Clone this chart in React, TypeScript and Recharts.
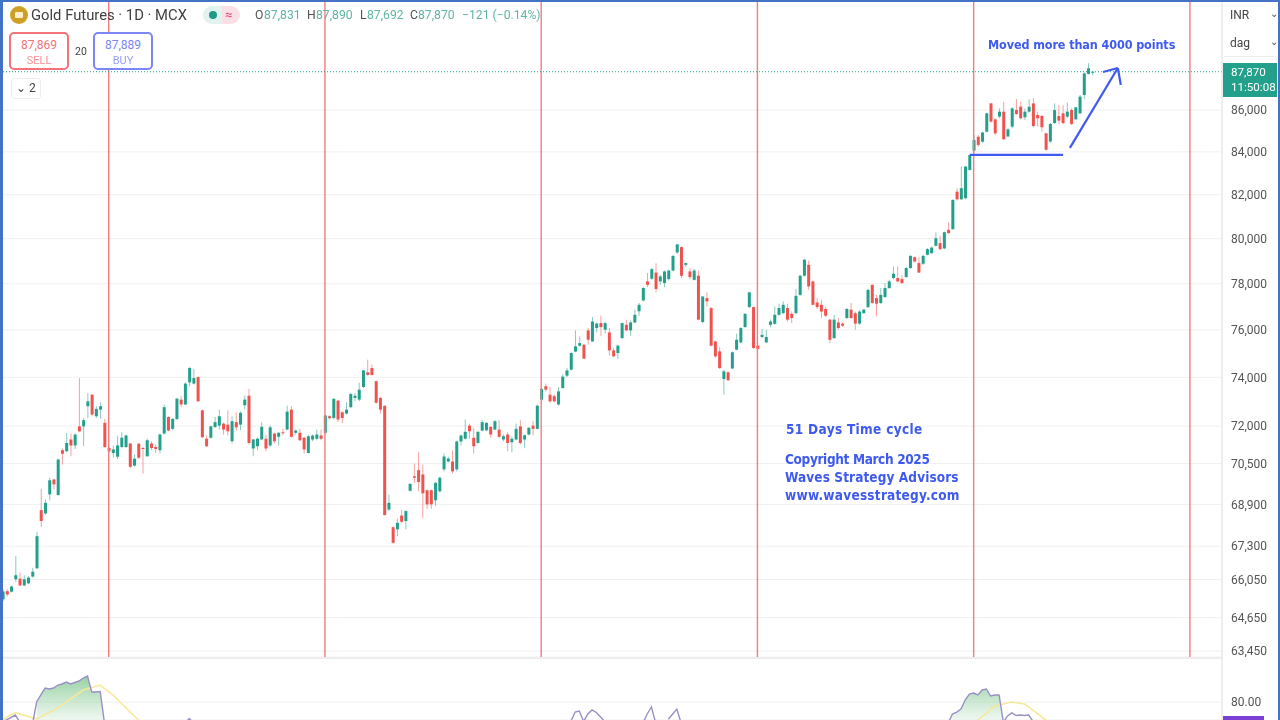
import React from 'react';
import { Area, Bar, CartesianGrid, ComposedChart, Line, ReferenceLine, XAxis, YAxis } from 'recharts';

const opens = [
  65320,65620,65600,66060,66080,65830,65910,66160,66470,68680,
  68550,69290,69870,69260,71030,70990,71460,71220,71990,71990,
  72810,73280,72400,72670,72130,71120,70920,70770,71160,71160,
  71300,70420,71290,71120,70790,71300,71160,71030,71700,72370,
  71890,72290,73080,72880,73790,73740,74010,72640,71490,71530,
  71960,72020,72100,72060,71390,72160,72060,72850,73240,71100,
  71190,71460,71490,71220,71700,71570,71750,71860,72670,71730,
  71730,71530,70920,71460,71490,71620,71730,72400,72330,73040,
  72560,72510,72770,73150,73080,73600,74210,74390,73840,73150,
  72830,68700,68020,67940,68470,68260,69430,70000,70240,70070,
  69450,69450,69060,69410,70270,70580,70580,70270,71380,71490,
  72020,71530,71320,71820,71830,71970,71860,71860,71460,71660,
  71350,71460,71990,71460,71660,72020,71890,73080,73630,73280,
  73220,72880,73560,74070,74320,75080,75330,75370,75980,75510,
  76080,76290,76010,75890,75130,75020,75650,76220,75980,76320,
  76800,77270,78100,78220,78490,78100,78030,78200,78580,79380,
  79620,78830,78540,78170,78350,76340,77370,76940,75510,75090,
  73930,74210,74370,75160,75470,76120,76980,76980,75330,75700,
  75470,76220,76260,76650,76720,76940,76690,76720,77510,78350,
  78830,78100,77180,77080,76900,76440,75650,76320,76270,76510,
  76870,76720,76270,76720,76980,77950,77370,77160,77420,77810,
  78250,78250,78200,78290,78690,79170,78910,78880,79280,79350,
  79680,79800,79560,80400,80430,82140,81790,81840,83150,84060,
  84720,84480,84960,86320,85550,85680,85920,84730,85200,86000,
  86160,85650,85920,86320,85760,85710,84880,84490,85370,85710,
  85840,85680,86000,85550,85840,86730,87760,87831,
];
const closes = [
  65610,65500,65790,66210,65830,66060,66120,66340,67680,68260,
  68960,69840,69680,70660,70890,71320,71220,71660,71790,72240,
  73010,72470,72700,72810,71160,70990,71060,71220,71530,71620,
  70370,70690,70730,71080,71430,71120,71080,71660,72770,71820,
  72290,73120,72880,73740,74390,73970,73010,71550,71190,71990,
  72160,72400,71860,71790,72200,71950,72540,73080,71320,71460,
  71490,71970,71100,71950,71390,71730,71730,72590,71570,71820,
  71430,71060,71590,71620,71660,71490,72430,72320,73110,72270,
  72330,72670,73310,73240,73490,74290,74100,74100,72950,72670,
  68490,68960,67430,68190,68230,68640,69700,69940,69770,69330,
  68900,68900,69740,69940,70780,70700,70190,71380,71620,71770,
  71790,71190,71770,72160,72130,71660,72200,71570,71590,71320,
  71490,71890,71320,71630,71930,71890,72830,73520,73490,73010,
  73010,73420,74030,74290,75020,75300,75440,74780,75580,76360,
  76270,76120,76290,75130,74880,75330,76290,75980,76320,76650,
  77080,77810,77950,78640,77770,78320,78540,78580,79230,79740,
  78350,78910,78290,78580,76440,77440,77230,75330,74880,74390,
  74250,73880,75050,75580,76080,76690,77620,75230,75190,75790,
  75700,76360,76650,76940,77080,76440,76510,77470,78350,79060,
  77880,77080,76980,76790,76610,75580,76440,76080,76180,76900,
  76510,76270,76790,76870,77730,77160,77130,77510,77810,78100,
  78440,78100,78030,78690,79230,78980,78490,79230,79530,79600,
  80020,79530,80290,80250,81760,81790,82300,83310,83850,84560,
  84330,84920,85840,85440,84880,85920,84600,85070,86080,85810,
  85600,85920,86160,85230,85600,85170,84100,85330,86000,85490,
  85370,85920,85330,86130,86650,87790,88040,87870,
];
const highs = [
  65690,65690,65830,66930,66310,66210,66180,66490,67840,69510,
  69090,69940,69900,70690,71090,71720,71700,71700,73970,72330,
  73350,73310,72810,72970,72290,71160,71220,71590,71750,71660,
  71320,70860,71320,71160,71490,71390,71260,71700,72880,72400,
  72330,73150,73220,73790,74430,74350,74040,72670,71620,72020,
  72370,72670,72150,72640,72400,72560,72600,73240,73520,71490,
  71530,72160,71660,72020,71730,71750,71900,72830,72810,71860,
  71890,71570,71650,71660,71860,71860,72460,72440,73150,73080,
  72600,72970,73350,73350,73770,74320,74740,74530,73860,73190,
  72830,69280,68060,68350,68680,68680,69720,70500,70950,70460,
  69480,69480,69770,69990,70900,70780,71020,71420,71660,72270,
  72100,71930,71790,72240,72160,71990,72240,72240,71660,71750,
  71570,72100,72240,71660,71970,72200,72880,73560,73740,73600,
  73280,73600,74130,74390,75050,75980,75730,75410,76080,76550,
  76320,76610,76360,76080,75230,75370,76320,76440,76410,76870,
  77160,77850,78470,78690,78900,78390,78580,78610,79260,79770,
  79650,78940,78690,78640,78580,77470,77620,76980,75550,75270,
  74320,74250,75090,75840,76120,76720,77650,77010,75370,76040,
  76010,76440,77010,77130,77230,77130,76790,77760,78380,79090,
  79020,78130,77370,77300,76980,76470,76650,76510,76320,76940,
  77160,76790,76840,76900,77780,77980,77510,77810,78030,78170,
  78760,78760,78390,78730,79260,79200,79170,79280,79580,79650,
  80280,80130,80320,80730,81790,82300,83310,83340,83880,84800,
  84800,84960,85870,86350,85600,86080,86400,85120,86130,86530,
  86400,86080,86520,86570,85920,85760,84910,85390,86320,86240,
  86240,86350,86080,86160,86730,87830,88290,87890,
];
const lows = [
  65250,65430,65570,65960,65810,65810,65870,66120,66450,68030,
  68510,69060,69480,69250,70460,70950,70790,71080,71750,71190,
  72330,72400,72330,72290,71120,70920,70730,70690,71120,71120,
  70330,70370,70690,70110,70770,71030,70920,70900,71660,71790,
  71830,72240,72780,72850,73630,73700,72990,71530,71160,71490,
  71930,71860,71660,71620,71300,71820,71830,72670,71260,70790,
  71030,71430,70990,71160,71300,71220,71620,71830,71530,71660,
  71390,70900,70900,71390,71430,71430,71660,72270,72270,72160,
  72130,72470,72730,73010,73010,73560,74070,74070,72920,72510,
  68470,68650,67400,67680,68190,67940,69400,69740,69410,68380,
  68730,68730,68830,69360,70190,70540,70110,70190,71220,71460,
  71490,70900,71300,71790,71790,71530,71830,71510,71390,70990,
  70950,71430,71260,71120,71620,71620,71860,73080,73420,72950,
  72970,72830,73520,74010,74290,75050,75280,74770,75370,75490,
  75890,75750,75840,74910,74850,74770,75620,75940,75750,76290,
  76610,77230,77850,78170,77620,77950,77850,78140,78540,79320,
  78250,78730,78200,78140,76410,76290,77010,75300,74810,74350,
  73290,73850,74350,75130,75440,76100,76950,75190,75160,75640,
  75440,76120,76220,76610,76680,76360,76290,76690,77470,78320,
  77730,77050,76900,76510,76550,75440,75620,76010,76120,76470,
  76470,76010,76220,76690,76940,77130,76580,77110,77370,77770,
  78200,78050,77980,78260,78650,78930,78470,78830,79250,79320,
  79650,79500,79530,80220,80400,81730,81760,81790,83120,83970,
  84240,84430,84920,85390,84800,85600,84560,84700,85120,85760,
  85550,85520,85870,85170,85200,84960,84060,84430,85320,85330,
  85320,85600,85280,85520,85810,86520,87730,87692,
];

const priceTicks = [86000, 84000, 82000, 80000, 78000, 76000, 74000, 72000, 70500, 68900, 67300, 66050, 64650, 63450];
const gridBars = [9, 31, 54, 74, 97, 118, 139, 161, 182, 203, 226, 247, 268];
const cycleBars = [25, 76, 127, 178, 229, 280];

// rsi pane, null breaks the line where it drops out of the crop
const rsiBars = [
  0,3,4,6,7,8,9,10,11,12,13,14,15,16,17,18,19,20,21,22,23,24,25,
  43,44,45,46,
  134,135,136,137,138,139,140,141,142,143,
  151,152,153,154,155,
  157,158,159,160,161,
  223,224,225,226,227,228,229,230,231,232,233,234,235,236,237,238,239,240,241,242,243,
];
const rsiValues = [
  66.7,71.3,66.7,61,64.7,80,84.7,89.3,88.7,89.3,91.3,92,93.3,92,93,94,96,97.3,86.7,86.7,87,66,null,
  66,69,66,null,
  67,73.3,74,67,72,74.7,73,70,67,null,
  66,72,76.7,66,null,
  68.5,72,75.3,66,null,
  66,72,73.3,75.3,81.3,85.3,86,84.7,88,88.7,84,84.7,84.7,66.5,70.7,72.7,71,71.3,71,71.3,67,
];
const rsiFillRanges = [[8, 24], [223, 236]];
const maBars = [0, 1, 3, 8, 13, 19, 23, 26, 32, 33, 229, 230, 234, 238, 241, 246, 247];
const maValues = [68, 70, 72.9, 68.7, 76, 88, 91.3, 84.7, 68, null, 66, 68, 77.3, 80, 78.7, 68, 66];

const candles = opens.map((open, i) => ({
  bar: i,
  open,
  close: closes[i],
  high: highs[i],
  low: lows[i],
  range: [lows[i], highs[i]],
}));
const rsiData = rsiBars.map((bar, i) => ({
  bar,
  rsi: rsiValues[i],
  fill: rsiFillRanges.some(([a, b]) => bar >= a && bar <= b) ? rsiValues[i] : null,
}));
const maData = maBars.map((bar, i) => ({ bar, ma: maValues[i] }));

const UP = '#23a08b';
const DOWN = '#ef5350';
const BLUE = '#3f5af0';
const CYCLE = '#f47c7c';
const GRID = '#f0f0f0';
const WIDTH = 1280;
const BAR_DOMAIN: [number, number] = [-0.637, 287.57];
const axisTick = { fill: '#555', fontSize: 12, fontFamily: 'Roboto' };

function Candle(props: any) {
  const { x, y, width, height, payload } = props;
  const { open, close, high, low } = payload;
  const at = (v: number) => y + (height * (Math.log(high) - Math.log(v))) / (Math.log(high) - Math.log(low));
  const color = close >= open ? UP : DOWN;
  const top = at(Math.max(open, close));
  const bottom = at(Math.min(open, close));
  const cx = x + width / 2;
  return (
    <g>
      <line x1={cx} x2={cx} y1={y} y2={y + height} stroke={color} strokeWidth={1} strokeOpacity={0.55} />
      <rect x={x} y={top} width={width} height={Math.max(bottom - top, 1)} fill={color} />
    </g>
  );
}

function Txt({ x, y, size = 12, color = '#444', weight = 400, font = 'Roboto', spacing, children }: any) {
  return (
    <div
      style={{
        position: 'absolute',
        left: x,
        top: y,
        fontSize: size,
        color,
        fontWeight: weight,
        fontFamily: font,
        letterSpacing: spacing,
        lineHeight: `${Math.round(size * 1.2)}px`,
        whiteSpace: 'nowrap',
      }}
    >
      {children}
    </div>
  );
}

function OrderBox({ x, color, price, side }: any) {
  return (
    <div
      style={{
        position: 'absolute',
        left: x,
        top: 32,
        width: 60,
        height: 38,
        boxSizing: 'border-box',
        border: `2px solid ${color}`,
        borderRadius: 5,
        background: '#fff',
        color,
        textAlign: 'center',
        fontFamily: 'Roboto',
        fontSize: 12,
        lineHeight: '15px',
        paddingTop: 4,
      }}
    >
      <div>{price}</div>
      <div style={{ fontSize: 11, opacity: 0.8 }}>{side}</div>
    </div>
  );
}

function Header() {
  const teal = '#62b5a5';
  return (
    <>
      <div style={{ position: 'absolute', left: 10, top: 6, width: 18, height: 18, borderRadius: 9, background: '#cf9f25' }} />
      <div style={{ position: 'absolute', left: 15, top: 12, width: 8, height: 6, background: '#fbeecb', borderRadius: 1 }} />
      <Txt x={31} y={6} size={14.8} color="#3f3f3f">Gold Futures · 1D · MCX</Txt>
      <div style={{ position: 'absolute', left: 203, top: 6, width: 19, height: 18, borderRadius: '9px 0 0 9px', background: '#e0f3ee' }} />
      <div style={{ position: 'absolute', left: 222, top: 6, width: 18, height: 18, borderRadius: '0 9px 9px 0', background: '#fbdfe6' }} />
      <div style={{ position: 'absolute', left: 209, top: 11, width: 8, height: 8, borderRadius: 4, background: '#1f9a84' }} />
      <Txt x={225} y={7} size={13} color="#e0457b">≈</Txt>
      <Txt x={255} y={8} size={12.2} color="#555">O</Txt>
      <Txt x={264} y={8} size={12.2} color={teal}>87,831</Txt>
      <Txt x={307} y={8} size={12.2} color="#555">H</Txt>
      <Txt x={316} y={8} size={12.2} color={teal}>87,890</Txt>
      <Txt x={360} y={8} size={12.2} color="#555">L</Txt>
      <Txt x={367} y={8} size={12.2} color={teal}>87,692</Txt>
      <Txt x={410} y={8} size={12.2} color="#555">C</Txt>
      <Txt x={418} y={8} size={12.2} color={teal}>87,870</Txt>
      <Txt x={462} y={8} size={12.2} color={teal}>−121 (−0.14%)</Txt>
      <OrderBox x={9} color="#f2737a" price="87,869" side="SELL" />
      <Txt x={75} y={45} size={10.5} color="#444">20</Txt>
      <OrderBox x={93} color="#7c86f5" price="87,889" side="BUY" />
      <div style={{ position: 'absolute', left: 11, top: 78, width: 28, height: 19, border: '1px solid #eee', borderRadius: 3, background: '#fff' }} />
      <Txt x={16} y={81} size={12} color="#444">⌄ 2</Txt>
    </>
  );
}

function RightColumn() {
  return (
    <>
      <div style={{ position: 'absolute', left: 1224, top: 4, width: 52, height: 52, borderBottom: '1px solid #eee', background: '#fff' }} />
      <Txt x={1230} y={8} size={12} color="#444">INR</Txt>
      <Txt x={1230} y={36} size={12} color="#444">dag</Txt>
      <Txt x={1270} y={8} size={10} color="#555">⌄</Txt>
      <Txt x={1270} y={36} size={10} color="#555">⌄</Txt>
      <div style={{ position: 'absolute', left: 1223, top: 63, width: 54, height: 34, background: '#23a08b', color: '#fff', fontFamily: 'Roboto', fontSize: 11.6, lineHeight: '15px', paddingLeft: 8, boxSizing: 'border-box', paddingTop: 2 }}>
        <div>87,870</div>
        <div>11:50:08</div>
      </div>
      <div style={{ position: 'absolute', left: 1223, top: 716, width: 41, height: 4, background: '#7a3fd4' }} />
    </>
  );
}

function Notes() {
  const font = 'DejaVu Sans Condensed';
  return (
    <>
      <Txt x={988} y={37} size={12.5} color={BLUE} weight={700} font={font} spacing={-0.11}>Moved more than 4000 points</Txt>
      <Txt x={786} y={421} size={13.5} color={BLUE} weight={700} font={font} spacing={0.33}>51 Days Time cycle</Txt>
      <Txt x={785} y={451} size={13.5} color={BLUE} weight={700} font={font} spacing={-0.35}>Copyright March 2025</Txt>
      <Txt x={785} y={469} size={13.5} color={BLUE} weight={700} font={font} spacing={0.1}>Waves Strategy Advisors</Txt>
      <Txt x={785} y={487} size={13.5} color={BLUE} weight={700} font={font} spacing={0.24}>www.wavesstrategy.com</Txt>
    </>
  );
}

export default function App() {
  return (
    <div style={{ position: 'absolute', left: 0, top: 0, width: WIDTH, height: 720, overflow: 'hidden', background: '#fff' }}>
      <div style={{ position: 'absolute', left: 0, top: 0, width: WIDTH, height: 720, filter: 'blur(0.45px)' }}>
        <div style={{ position: 'absolute', left: 0, top: 0 }}>
          <ComposedChart width={WIDTH} height={657} data={candles} margin={{ top: 0, right: 0, bottom: 0, left: 0 }}>
            <CartesianGrid stroke={GRID} />
            <XAxis type="number" dataKey="bar" domain={BAR_DOMAIN} allowDataOverflow ticks={gridBars} tick={false} axisLine={false} tickLine={false} height={0} />
            <YAxis
              orientation="right"
              scale="log"
              domain={[63236, 91486]}
              allowDataOverflow
              ticks={priceTicks}
              interval={0}
              width={58}
              tick={axisTick}
              tickSize={0}
              tickMargin={9}
              tickLine={false}
              axisLine={{ stroke: '#e4e4e4' }}
              tickFormatter={(v: number) => v.toLocaleString('en-US')}
            />
            {cycleBars.map((b) => (
              <ReferenceLine key={b} x={b} stroke={CYCLE} strokeWidth={1.4} />
            ))}
            <ReferenceLine y={87870} stroke={UP} strokeDasharray="1 2" strokeWidth={1} />
            <Bar dataKey="range" barSize={3} shape={Candle} isAnimationActive={false} />
            <ReferenceLine segment={[{ x: 228.1, y: 83855 }, { x: 250.1, y: 83855 }]} stroke={BLUE} strokeWidth={2.2} />
            <ReferenceLine segment={[{ x: 251.7, y: 84186 }, { x: 263, y: 88055 }]} stroke={BLUE} strokeWidth={2.2} />
            <ReferenceLine segment={[{ x: 259.5, y: 87857 }, { x: 263, y: 88055 }]} stroke={BLUE} strokeWidth={2.2} />
            <ReferenceLine segment={[{ x: 263, y: 88055 }, { x: 263.7, y: 87222 }]} stroke={BLUE} strokeWidth={2.2} />
          </ComposedChart>
        </div>
        <div style={{ position: 'absolute', left: 0, top: 657, width: 1222, height: 2, background: '#ececec' }} />
        <div style={{ position: 'absolute', left: 0, top: 657 }}>
          <ComposedChart width={WIDTH} height={63} margin={{ top: 0, right: 0, bottom: 0, left: 0 }}>
            <defs>
              <linearGradient id="rsiFill" x1="0" y1="0" x2="0" y2="1">
                <stop offset="0%" stopColor="#4fb263" stopOpacity={1} />
                <stop offset="100%" stopColor="#e6f4e8" stopOpacity={0.8} />
              </linearGradient>
            </defs>
            <CartesianGrid stroke={GRID} />
            <XAxis type="number" dataKey="bar" domain={BAR_DOMAIN} allowDataOverflow ticks={gridBars} tick={false} axisLine={false} tickLine={false} height={0} />
            <YAxis
              orientation="right"
              domain={[68, 110]}
              allowDataOverflow
              ticks={[80]}
              width={58}
              tick={axisTick}
              tickSize={0}
              tickMargin={9}
              tickLine={false}
              axisLine={{ stroke: '#e4e4e4' }}
              tickFormatter={(v: number) => v.toFixed(2)}
            />
            <Area data={rsiData} dataKey="fill" baseValue={68} stroke="none" fill="url(#rsiFill)" connectNulls={false} isAnimationActive={false} />
            <Line data={maData} dataKey="ma" stroke="#f7e89a" strokeWidth={1.6} dot={false} connectNulls={false} isAnimationActive={false} />
            <Line data={rsiData} dataKey="rsi" stroke="#9a90c8" strokeWidth={1.4} dot={false} connectNulls={false} isAnimationActive={false} />
          </ComposedChart>
        </div>
        <Header />
        <RightColumn />
        <Notes />
        <div style={{ position: 'absolute', left: 0, top: 0, width: WIDTH, height: 2, background: '#4472c4' }} />
        <div style={{ position: 'absolute', left: 0, top: 0, width: 2.5, height: 720, background: '#4472c4' }} />
        <div style={{ position: 'absolute', left: 1277.5, top: 0, width: 2.5, height: 720, background: '#4472c4' }} />
      </div>
    </div>
  );
}
